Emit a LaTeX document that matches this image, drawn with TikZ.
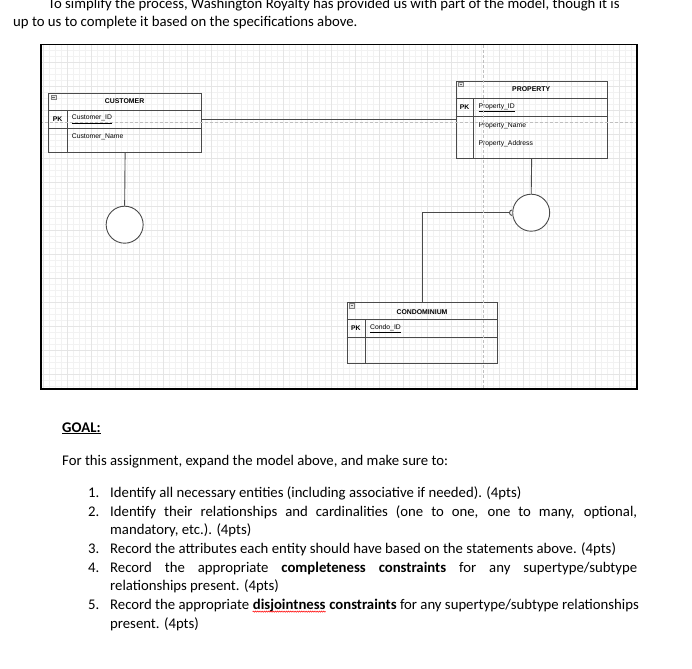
\documentclass[tikz,border=0pt]{standalone}
\usepackage{fontspec}
\setmainfont{Carlito}
\newfontfamily\dfont{Liberation Sans}
\usetikzlibrary{calc,decorations.pathmorphing}
\definecolor{ent}{HTML}{4A4A4A}
\tikzset{
  body/.style={font=\fontsize{14.75}{18}\selectfont, anchor=base west, inner sep=0pt},
  minorgrid/.style={draw=black!5, line width=0.5pt},
  majorgrid/.style={draw=black!10, line width=0.6pt},
  pagebreak/.style={draw=black!25, line width=0.6pt, dash pattern=on 3pt off 2pt},
  entbox/.style={draw=ent, line width=0.9pt, anchor=north west, inner sep=0pt},
  entline/.style={draw=ent, line width=0.9pt},
  hdr/.style={font=\dfont\bfseries\fontsize{6.9}{7}\selectfont, inner sep=0pt},
  attr/.style={font=\dfont\fontsize{6.8}{7}\selectfont, inner sep=0pt, anchor=west},
  pk/.style={font=\dfont\bfseries\fontsize{6.8}{7}\selectfont, inner sep=0pt},
  conn/.style={draw=ent, line width=0.9pt},
  subcirc/.style={circle, draw=ent, line width=0.9pt, fill=white, minimum size=37pt, inner sep=0pt}
}
\newcommand{\entico}[2]{\fill[black!10] (#1,#2) rectangle ++(4.8,4.2); \draw[black!50, line width=0.4pt] (#1,#2) rectangle ++(4.8,4.2); \draw[black!60, line width=0.5pt] ($(#1,#2)+(1.1,2.1)$) -- ++(2.6,0);}
\begin{document}
\begin{tikzpicture}[x=1pt,y=-1pt]
\useasboundingbox (0,0) rectangle (692,668);
\fill[white] (0,0) rectangle (692,668);

% ---------- top paragraph ----------
\node[body] (t1) at (48,8.5) {To simplify the process, Washington Royalty has provided us with part of the model, though it is};
\node[body] (t2) at (13,26.8) {up to us to complete it based on the specifications above.};

% ---------- diagram canvas grid ----------
\begin{scope}
\clip (41,44.5) rectangle (637,389);
\foreach \g in {0,...,100} {
  \draw[minorgrid] ({43.7+6*\g},40) -- ++(0,360);
  \draw[minorgrid] (30,{44.3+6*\g}) -- ++(620,0);
}
\foreach \g in {0,...,25} {
  \draw[majorgrid] ({43.7+24*\g},40) -- ++(0,360);
  \draw[majorgrid] (30,{62.3+24*\g}) -- ++(620,0);
}
\end{scope}

% ---------- CUSTOMER ----------
\node[entbox, minimum width=152.7pt, minimum height=59pt] (cust) at (48.3,93.3) {};
\draw[entline] (48.3,110) -- (201,110);
\draw[entline] (48.3,128.3) -- (201,128.3);
\draw[entline] (67.3,110) -- (67.3,152.3);
\entico{51}{95}
\node[hdr] (custh) at (124.6,101.5) {CUSTOMER};
\node[pk] (custpk) at (57.6,119.3) {PK};
\node[attr] (custid) at (71.7,119.3) {\underline{Customer\_ID}};
\node[attr] (custnm) at (71.7,137.3) {Customer\_Name};

% ---------- PROPERTY ----------
\node[entbox, minimum width=151pt, minimum height=77pt] (prop) at (455.7,80.7) {};
\draw[entline] (455.7,98.3) -- (606.7,98.3);
\draw[entline] (455.7,116.3) -- (606.7,116.3);
\draw[entline] (473.7,98.3) -- (473.7,157.7);
\entico{458.5}{82.5}
\node[hdr] (proph) at (531.2,89.5) {PROPERTY};
\node[pk] (proppk) at (464.6,107.5) {PK};
\node[attr] (propid) at (478.3,107.5) {\underline{Property\_ID}};
\node[attr] (propnm) at (478.3,126) {Property\_Name};
\node[attr] (propad) at (478.3,144) {Property\_Address};

% ---------- CONDOMINIUM ----------
\node[entbox, minimum width=150.6pt, minimum height=61.6pt] (condo) at (346.7,301.7) {};
\draw[entline] (346.7,319) -- (497.3,319);
\draw[entline] (346.7,337) -- (497.3,337);
\draw[entline] (365,319) -- (365,363.3);
\entico{349.5}{303.5}
\node[hdr] (condoh) at (422,312.5) {CONDOMINIUM};
\node[pk] (condopk) at (355.8,328.5) {PK};
\node[attr] (condoid) at (370,328.5) {\underline{Condo\_ID}};

% ---------- connectors ----------
\draw[conn] (cust.east |- custid) -- (prop.west |- custid);
\node[subcirc] (c1) at (124.65,224.7) {};
\draw[conn] (cust.south) -- (c1.north);
\node[subcirc] (c2) at (531.2,212.7) {};
\draw[conn] (prop.south) -- (c2.north);
\draw[conn] (c2.west) ++(0,2.8) arc[start angle=90, end angle=270, radius=2.8];
\coordinate (arcl) at ([xshift=-2.8pt]c2.west);
\draw[conn] (condo.north) |- (arcl);

% ---------- page break guides and frame ----------
\begin{scope}
\clip (41,44.5) rectangle (637,389);
\draw[pagebreak] (483,40) -- (483,395);
\draw[pagebreak] (30,122.7) -- (650,122.7);
\end{scope}
\draw[black, line width=1.4pt] (41,44.5) rectangle (637,389);

% ---------- GOAL text ----------
\node[body] (goal) at (62,432) {\underline{\textbf{GOAL:}}};
\node[body] (intro) at (62,465) {For this assignment, expand the model above, and make sure to:};

\node[body] (n1) at (88,497) {1.};
\node[body] (i1) at (110,497) {Identify all necessary entities (including associative if needed). (4pts)};
\node[body] (n2) at (88,516) {2.};
\node[body] (i2a) at (110,516) {\makebox[527pt][s]{Identify their relationships and cardinalities (one to one, one to many, optional,}};
\node[body] (i2b) at (110,534.5) {mandatory, etc.). (4pts)};
\node[body] (n3) at (88,553) {3.};
\node[body] (i3) at (110,553) {Record the attributes each entity should have based on the statements above. (4pts)};
\node[body] (n4) at (88,572) {4.};
\node[body] (i4a) at (110,572) {\makebox[527pt][s]{Record the appropriate \textbf{completeness constraints} for any supertype/subtype}};
\node[body] (i4b) at (110,590.5) {relationships present. (4pts)};
\node[body] (n5) at (88,609) {5.};
\node[body] (i5a) at (110,609) {Record the appropriate};
\node[body] (dj) at ([xshift=3.3pt]i5a.base east) {\textbf{disjointness}};
\node[body] (i5c) at ([xshift=3.3pt]dj.base east) {\textbf{constraints} for any supertype/subtype relationships};
\draw[red, line width=0.5pt, decorate, decoration={snake, amplitude=0.6pt, segment length=2.2pt}] ([yshift=-2.6pt]dj.base west) -- ([yshift=-2.6pt]dj.base east);
\node[body] (i5b) at (110,628) {present. (4pts)};
\end{tikzpicture}
\end{document}
